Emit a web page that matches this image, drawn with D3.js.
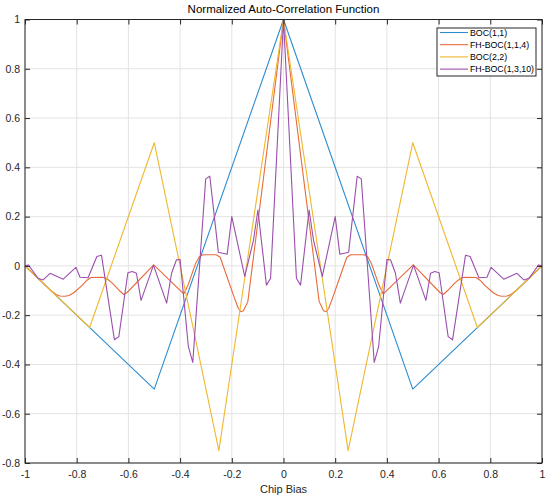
<!DOCTYPE html>
<html>
<head>
<meta charset="utf-8">
<script src="https://cdn.jsdelivr.net/npm/d3@7"></script>
<style>
body { margin: 0; background: #fff; }
svg { display: block; font-family: "Liberation Sans", Arial, sans-serif; }
</style>
</head>
<body>
<svg width="550" height="499"></svg>
<script>
var svg = d3.select("svg");
var width = 550;
var height = 499;
var plotLeft = 25, plotRight = 542, plotTop = 19.5, plotBottom = 463;

// series (x = chip bias, y = normalized ACF)
var bocX = [-1, -0.5, 0, 0.5, 1];
var bocY = [0, -0.5, 1, -0.5, 0];

var fhX = [-1, -0.9, -0.88, -0.865, -0.845, -0.83, -0.81, -0.78, -0.76, -0.745, -0.7, -0.685, -0.66, -0.635, -0.618, -0.605, -0.502,
	-0.386, -0.37, -0.34, -0.325, -0.31, -0.26, -0.245, -0.22, -0.19, -0.175, -0.165, -0.155, -0.138, 0,
	0.138, 0.155, 0.165, 0.175, 0.19, 0.22, 0.245, 0.26, 0.31, 0.325, 0.34, 0.37, 0.386,
	0.502, 0.605, 0.618, 0.635, 0.66, 0.685, 0.7, 0.745, 0.76, 0.78, 0.81, 0.83, 0.845, 0.865, 0.88, 0.9, 1];
var fhY = [0, -0.1, -0.116, -0.122, -0.123, -0.12, -0.108, -0.08, -0.058, -0.047, -0.046, -0.05, -0.072, -0.1, -0.116, -0.108, 0.004,
	-0.114, -0.08, 0.01, 0.038, 0.045, 0.045, 0.035, -0.04, -0.13, -0.172, -0.186, -0.182, -0.145, 1,
	-0.145, -0.182, -0.186, -0.172, -0.13, -0.04, 0.035, 0.045, 0.045, 0.038, 0.01, -0.08, -0.114,
	0.004, -0.108, -0.116, -0.1, -0.072, -0.05, -0.046, -0.047, -0.058, -0.08, -0.108, -0.12, -0.123, -0.122, -0.116, -0.1, 0];

var boc22X = [-1, -0.75, -0.5, -0.25, 0, 0.25, 0.5, 0.75, 1];
var boc22Y = [0, -0.25, 0.5, -0.75, 1, -0.75, 0.5, -0.25, 0];

var fh3X = [-1, -0.987, -0.95, -0.93, -0.903, -0.852, -0.803, -0.787, -0.756, -0.722, -0.704, -0.654, -0.637, -0.602, -0.585, -0.569, -0.551,
	-0.503, -0.452, -0.433, -0.414, -0.4, -0.368, -0.351, -0.301, -0.285, -0.252, -0.218, -0.2, -0.15, -0.116, -0.099, -0.066, -0.05, 0,
	0.05, 0.066, 0.099, 0.116, 0.15, 0.2, 0.218, 0.252, 0.285, 0.301, 0.351, 0.368, 0.4, 0.414, 0.433, 0.452,
	0.503, 0.551, 0.569, 0.585, 0.602, 0.637, 0.654, 0.704, 0.722, 0.756, 0.787, 0.803, 0.852, 0.903, 0.93, 0.95, 0.987, 1];
var fh3Y = [0, 0.004, -0.05, -0.057, -0.03, -0.054, -0.006, -0.046, -0.048, 0.038, 0.043, -0.3, -0.287, -0.028, -0.023, -0.03, -0.14,
	0.003, -0.151, -0.03, 0.025, 0.026, -0.328, -0.392, 0.353, 0.364, 0.055, 0.047, 0.2, -0.043, 0.105, 0.227, -0.078, -0.05, 1,
	-0.05, -0.078, 0.227, 0.105, -0.043, 0.2, 0.047, 0.055, 0.364, 0.353, -0.392, -0.328, 0.026, 0.025, -0.03, -0.151,
	0.003, -0.14, -0.03, -0.023, -0.028, -0.287, -0.3, 0.043, 0.038, -0.048, -0.046, -0.006, -0.054, -0.03, -0.057, -0.05, 0.004, 0];

var seriesNames = ["BOC(1,1)", "FH-BOC(1,1,4)", "BOC(2,2)", "FH-BOC(1,3,10)"];
var seriesColors = ["#2b8ccf", "#e8693a", "#f0b72e", "#9a4fad"];
var xTicks = [-1, -0.8, -0.6, -0.4, -0.2, 0, 0.2, 0.4, 0.6, 0.8, 1];
var yTicks = [-0.8, -0.6, -0.4, -0.2, 0, 0.2, 0.4, 0.6, 0.8, 1];

var x = d3.scaleLinear().domain([-1, 1]).range([plotLeft, plotRight]);
var y = d3.scaleLinear().domain([-0.8, 1]).range([plotBottom, plotTop]);

function tr(a, b) {
	return "translate(" + a + ", " + b + ")";
}

function plainNum(d) {
	return String(d);
}

// grid
var grid = svg.append("g").attr("stroke", "#e3e3e3").attr("stroke-width", 1);
grid.selectAll(".gx").data(xTicks).enter().append("line")
	.attr("x1", function (d) { return x(d); }).attr("x2", function (d) { return x(d); })
	.attr("y1", plotTop).attr("y2", plotBottom);
grid.selectAll(".gy").data(yTicks).enter().append("line")
	.attr("x1", plotLeft).attr("x2", plotRight)
	.attr("y1", function (d) { return y(d); }).attr("y2", function (d) { return y(d); });

// lines
var series = [
	[bocX, bocY],
	[fhX, fhY],
	[boc22X, boc22Y],
	[fh3X, fh3Y]
];
var line = d3.line().x(function (d) { return x(d[0]); }).y(function (d) { return y(d[1]); });
series.forEach(function (s, i) {
	svg.append("path")
		.datum(d3.zip(s[0], s[1]))
		.attr("d", line)
		.attr("fill", "none")
		.attr("stroke", seriesColors[i])
		.attr("stroke-width", 1.1)
		.attr("stroke-linejoin", "round");
});

// axes (ticks inside, mirrored on all sides)
var axisColor = "#262626";
var tickLen = 5;
var bottomAxis = d3.axisBottom(x).tickValues(xTicks).tickSize(-tickLen).tickPadding(8).tickFormat(plainNum);
var topAxis = d3.axisTop(x).tickValues(xTicks).tickSize(-tickLen).tickFormat("");
var leftAxis = d3.axisLeft(y).tickValues(yTicks).tickSize(-tickLen).tickPadding(5).tickFormat(plainNum);
var rightAxis = d3.axisRight(y).tickValues(yTicks).tickSize(-tickLen).tickFormat("");

function styleAxis(g) {
	g.select(".domain").remove();
	g.selectAll(".tick line").attr("stroke", axisColor);
	g.selectAll(".tick text").attr("fill", axisColor).attr("font-size", 10.5)
		.attr("font-family", "Liberation Sans, Arial, sans-serif");
}
svg.append("g").attr("transform", tr(0, plotBottom)).call(bottomAxis).call(styleAxis);
svg.append("g").attr("transform", tr(0, plotTop)).call(topAxis).call(styleAxis);
svg.append("g").attr("transform", tr(plotLeft, 0)).call(leftAxis).call(styleAxis);
svg.append("g").attr("transform", tr(plotRight, 0)).call(rightAxis).call(styleAxis);
svg.append("rect")
	.attr("x", plotLeft).attr("y", plotTop).attr("width", plotRight - plotLeft).attr("height", plotBottom - plotTop)
	.attr("fill", "none").attr("stroke", axisColor).attr("stroke-width", 1);

// title and label
svg.append("text").attr("x", (plotLeft + plotRight) / 2).attr("y", 13)
	.attr("text-anchor", "middle").attr("font-size", 11.5).attr("fill", "#000")
	.text("Normalized Auto-Correlation Function");
svg.append("text").attr("x", (plotLeft + plotRight) / 2).attr("y", 493)
	.attr("text-anchor", "middle").attr("font-size", 11).attr("fill", axisColor)
	.text("Chip Bias");

// legend
var legend = svg.append("g").attr("transform", tr(437, 28));
legend.append("rect").attr("width", 99).attr("height", 48)
	.attr("fill", "#fff").attr("stroke", axisColor).attr("stroke-width", 1);
seriesNames.forEach(function (name, i) {
	var row = legend.append("g").attr("transform", tr(0, 4.5 + i * 12.2));
	row.append("line").attr("x1", 3).attr("x2", 31).attr("y1", 0).attr("y2", 0)
		.attr("stroke", seriesColors[i]).attr("stroke-width", 1.1);
	row.append("text").attr("x", 33).attr("y", 3.3).attr("font-size", 8.8).attr("fill", "#000").text(name);
});
</script>
</body>
</html>
